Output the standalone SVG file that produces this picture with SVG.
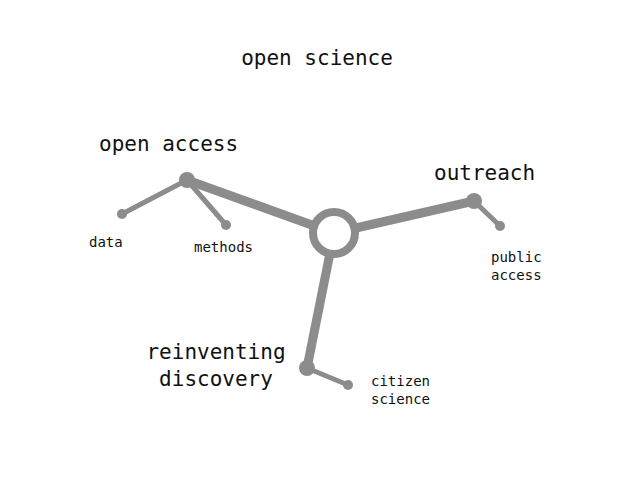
<svg xmlns="http://www.w3.org/2000/svg" width="638" height="479" viewBox="0 0 638 479">
<style>
.t{font-family:"DejaVu Sans Mono",monospace;fill:#111}
.big{font-size:21px}
.sm{font-size:14px}
.l{stroke:#8c8c8c;stroke-linecap:round;fill:none}
.n{fill:#8c8c8c}
</style>
<rect width="638" height="479" fill="#fff"/>
<g id="connectors">
<line class="l" x1="334" y1="233" x2="187" y2="180" stroke-width="9"/>
<line class="l" x1="334" y1="233" x2="474" y2="201" stroke-width="9"/>
<line class="l" x1="334" y1="233" x2="307" y2="368" stroke-width="9"/>
<line class="l" x1="187" y1="180" x2="122" y2="214" stroke-width="5"/>
<line class="l" x1="187" y1="180" x2="226" y2="225" stroke-width="5"/>
<line class="l" x1="474" y1="201" x2="500" y2="226" stroke-width="5"/>
<line class="l" x1="307" y1="368" x2="348" y2="385" stroke-width="5"/>
</g>
<g id="center"><circle cx="334" cy="233" r="21" fill="#fff" stroke="#8c8c8c" stroke-width="8"/></g>
<g id="title"><text class="t big" x="317" y="65" text-anchor="middle">open science</text></g>
<g id="openaccess"><circle class="n" cx="187" cy="180" r="8"/><text class="t big" x="99" y="151">open access</text></g>
<g id="data"><circle class="n" cx="122" cy="214" r="5"/><text class="t sm" x="89" y="247">data</text></g>
<g id="methods"><circle class="n" cx="226" cy="225" r="5"/><text class="t sm" x="194" y="252">methods</text></g>
<g id="outreach"><circle class="n" cx="474" cy="201" r="8"/><text class="t big" x="434" y="180">outreach</text></g>
<g id="public"><circle class="n" cx="500" cy="226" r="5"/><text class="t sm" x="491" y="262">public</text><text class="t sm" x="491" y="280">access</text></g>
<g id="reinventing"><circle class="n" cx="307" cy="368" r="8"/><text class="t big" x="216" y="359" text-anchor="middle">reinventing</text><text class="t big" x="216" y="386" text-anchor="middle">discovery</text></g>
<g id="citizen"><circle class="n" cx="348" cy="385" r="5"/><text class="t sm" x="371" y="386">citizen</text><text class="t sm" x="371" y="404">science</text></g>
</svg>
